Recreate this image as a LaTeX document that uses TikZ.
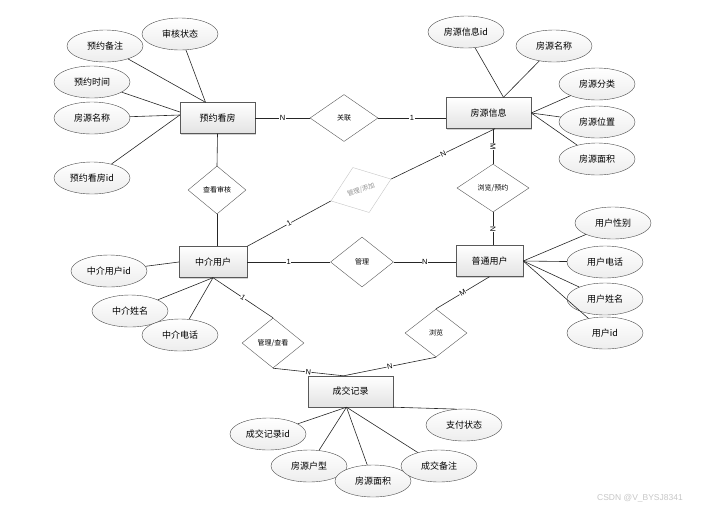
\documentclass[tikz,border=0pt]{standalone}
\usepackage{fontspec}
\setmainfont{Liberation Sans}
\newfontfamily\cjk{Noto Sans CJK SC}
\usetikzlibrary{shapes.geometric,shadows}
\begin{document}
\begin{tikzpicture}[x=1pt,y=-1pt,
 ent/.style={rectangle, draw=gray!70!black, top color=white, bottom color=gray!22, minimum height=31pt, inner sep=0pt, font=\cjk\fontsize{9}{11}\selectfont, drop shadow={shadow xshift=1.2pt, shadow yshift=-1.2pt, opacity=0.35}},
 attr/.style={ellipse, draw=gray!60!black, top color=white, bottom color=gray!14, minimum width=76pt, minimum height=32pt, inner sep=0pt, font=\cjk\fontsize{9}{11}\selectfont},
 rel/.style={diamond, draw=gray!70!black, fill=white, inner sep=0pt, font=\cjk\fontsize{7}{8}\selectfont},
 lk/.style={draw=gray!30!black, line width=0.6pt},
 card/.style={fill=white, inner sep=0.5pt, font=\fontsize{7.5}{8}\selectfont}
]
\useasboundingbox (0,0) rectangle (719,512);

% entities
\node[ent, minimum width=75pt] (yykf) at (217.5,118) {预约看房};
\node[ent, minimum width=85pt] (fyxx) at (488.5,113) {房源信息};
\node[ent, minimum width=68pt] (zjyh) at (213,262) {中介用户};
\node[ent, minimum width=67pt] (ptyh) at (489.5,261) {普通用户};
\node[ent, minimum width=85pt] (cjjl) at (350.5,391.5) {成交记录};

% relations
\node[rel, minimum width=68pt, minimum height=47pt] (gl) at (344,118) {关联};
\node[rel, minimum width=58pt, minimum height=48pt] (cksh) at (217,190) {查看审核};
\node[rel, draw=gray!45, text=gray!85, rotate=20, minimum width=64pt, minimum height=48pt, font=\cjk\fontsize{6.5}{8}\selectfont] (glt) at (361,190) {管理/添加};
\node[rel, minimum width=72pt, minimum height=48pt] (llyy) at (493,188) {浏览/预约};
\node[rel, minimum width=63pt, minimum height=50pt] (gl2) at (362,262) {管理};
\node[rel, minimum width=62pt, minimum height=50pt] (glck) at (273,343) {管理/查看};
\node[rel, minimum width=62pt, minimum height=48pt] (ll) at (436,333) {浏览};

% attributes
\node[attr] (a1) at (180,34) {审核状态};
\node[attr] (a2) at (105,46) {预约备注};
\node[attr] (a3) at (92,82) {预约时间};
\node[attr] (a4) at (92,118) {房源名称};
\node[attr] (a5) at (92,178) {预约看房id};
\node[attr] (b1) at (466,32) {房源信息id};
\node[attr] (b2) at (554,46) {房源名称};
\node[attr] (b3) at (597,84) {房源分类};
\node[attr] (b4) at (597,122) {房源位置};
\node[attr] (b5) at (597,159) {房源面积};
\node[attr] (c1) at (613,223) {用户性别};
\node[attr] (c2) at (605,262) {用户电话};
\node[attr] (c3) at (605,299) {用户姓名};
\node[attr] (c4) at (605,333) {用户id};
\node[attr] (d1) at (109,271) {中介用户id};
\node[attr] (d2) at (130,311) {中介姓名};
\node[attr] (d3) at (180,335) {中介电话};
\node[attr] (e1) at (268,434) {成交记录id};
\node[attr] (e2) at (309,466) {房源户型};
\node[attr] (e3) at (373,481) {房源面积};
\node[attr] (e4) at (439,466) {成交备注};
\node[attr] (e5) at (464,425) {支付状态};

% attribute links
\draw[lk] (a1) -- ([xshift=-12pt]yykf.north);
\draw[lk] (a2) -- ([xshift=-12pt]yykf.north);
\draw[lk] (a3) -- ([yshift=6pt]yykf.west);
\draw[lk] (a4) -- ([yshift=3pt]yykf.west);
\draw[lk] (a5) -- ([yshift=3pt]yykf.west);
\draw[lk] (b1) -- ([xshift=15pt]fyxx.north);
\draw[lk] (b2) -- ([xshift=15pt]fyxx.north);
\draw[lk] (b3) -- (fyxx.east);
\draw[lk] (b4) -- (fyxx.east);
\draw[lk] (b5) -- (fyxx.east);
\draw[lk] (c1) -- (ptyh.east);
\draw[lk] (c2) -- (ptyh.east);
\draw[lk] (c3) -- (ptyh.east);
\draw[lk] (c4) -- (ptyh.east);
\draw[lk] (d1) -- (zjyh.west);
\draw[lk] (d2) -- (zjyh.south);
\draw[lk] (d3) -- (zjyh.south);
\draw[lk] (e1) -- ([xshift=-4pt]cjjl.south);
\draw[lk] (e2) -- ([xshift=-4pt]cjjl.south);
\draw[lk] (e3) -- ([xshift=-4pt]cjjl.south);
\draw[lk] (e4) -- ([xshift=-4pt]cjjl.south);
\draw[lk] (cjjl.south east) -- (e5.115);

% relationship links
\draw[lk] (yykf.east) -- node[card]{N} (gl.west);
\draw[lk] (gl.east) -- node[card]{1} (gl.east -| fyxx.west);
\draw[lk] (yykf.south) -- (cksh.north);
\draw[lk] (cksh.south) -- (cksh.south |- zjyh.north);
\draw[lk] (zjyh.north east) -- node[card, sloped]{1} (glt.west);
\draw[lk] (glt.east) -- node[card, sloped]{N} ([xshift=6.5pt]fyxx.south);
\draw[lk] (llyy.north |- fyxx.south) -- node[card, sloped]{M} (llyy.north);
\draw[lk] (llyy.south) -- node[card, sloped]{N} (llyy.south |- ptyh.north);
\draw[lk] (zjyh.east) -- node[card]{1} (gl2.west);
\draw[lk] (gl2.east) -- node[card]{N} (gl2.east -| ptyh.west);
\draw[lk] (zjyh.south) -- node[card, sloped]{1} (glck.north);
\draw[lk] (glck.south) -- node[card, sloped]{N} ([xshift=-7pt]cjjl.north);
\draw[lk] (ptyh.south) -- node[card, sloped]{M} (ll.north);
\draw[lk] (ll.south) -- node[card, sloped]{N} ([xshift=-7pt]cjjl.north);

\node[text=gray!45, font=\fontsize{8.5}{9}\selectfont] (wm) at (640,498) {CSDN @V\_BYSJ8341};
\end{tikzpicture}
\end{document}
